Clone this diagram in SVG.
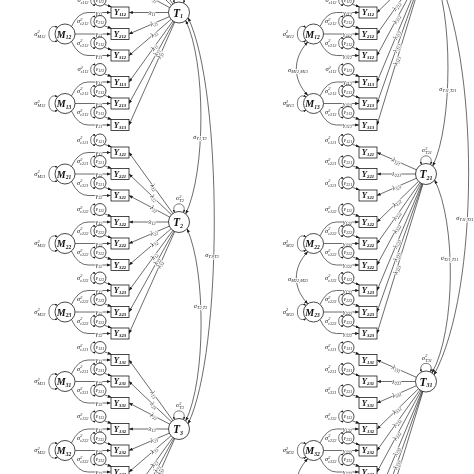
<svg xmlns="http://www.w3.org/2000/svg" width="474" height="474" viewBox="0 0 474 474">
<style>
.ln{fill:none;stroke:#1c1c1c;stroke-width:0.65}
.ar{marker-end:url(#a)}
.lp{fill:none;stroke:#1c1c1c;stroke-width:0.6;marker-start:url(#b);marker-end:url(#b)}
.cv{fill:none;stroke:#1c1c1c;stroke-width:0.65;marker-start:url(#a);marker-end:url(#a)}
.nd{fill:#fff;stroke:#1c1c1c;stroke-width:0.8}
.bt{font-family:"Liberation Serif","DejaVu Serif",serif;font-weight:bold;font-style:italic;text-anchor:middle;fill:#111}
.yt{font-size:8.5px}
.ys{font-size:4.8px}
.tt{font-size:11.5px}
.ts{font-size:6px}
.mt{font-size:10px}
.ms{font-size:5.5px}
.et{font-family:"Liberation Serif","DejaVu Serif",serif;font-style:italic;font-size:5.8px;text-anchor:middle;fill:#111}
.es{font-size:4px}
.lb{font-family:"Liberation Serif","DejaVu Serif",serif;font-style:italic;font-size:6.5px;fill:#1a1a1a;text-anchor:middle;paint-order:stroke;stroke:#fff;stroke-width:1.5px;stroke-linejoin:round}
.le{text-anchor:end;stroke:none}
.sb{font-size:4.3px}
</style>
<defs>
<marker id="a" viewBox="0 0 10 8" refX="9.5" refY="4" markerWidth="4" markerHeight="3.2" markerUnits="userSpaceOnUse" orient="auto-start-reverse"><path d="M0,0 L10,4 L0,8 z" fill="#1c1c1c"/></marker>
<marker id="b" viewBox="0 0 10 8" refX="9.5" refY="4" markerWidth="2.8" markerHeight="2.3" markerUnits="userSpaceOnUse" orient="auto-start-reverse"><path d="M0,0 L10,4 L0,8 z" fill="#1c1c1c"/></marker>
<path id="eL" class="lp" d="M-4.3,-4.2 C-11,-8.5 -11,8.5 -4.3,4.2"/>
<path id="eA" class="ln ar" d="M4.2,4.2 L11.5,7"/>
<path id="mL" class="lp" d="M-7.5,-6.6 C-19,-13 -19,13 -7.5,6.6"/>
<path id="tL" class="lp" d="M-4.5,-9.6 C-9,-21 9,-21 4.5,-9.6"/>
<g id="gm">
<path class="ln ar" d="M6.5,-7.6 Q13,-21.5 23,-21.5 L45.5,-21.5"/>
<path class="ln ar" d="M10,0 L45.5,0"/>
<path class="ln ar" d="M6.5,7.6 Q13,21.5 23,21.5 L45.5,21.5"/>
</g>
</defs>
<rect width="474" height="474" fill="#fff"/>
<g opacity="0.999">
<g id="connectors">
<path class="ln ar" d="M179,12.5 L129,-57"/>
<path class="ln ar" d="M179,12.5 L129,-35.5"/>
<path class="ln ar" d="M179,12.5 L129,-14"/>
<path class="ln ar" d="M179,12.5 L129,12.5"/>
<path class="ln ar" d="M179,12.5 L129,34"/>
<path class="ln ar" d="M179,12.5 L129,55.5"/>
<path class="ln ar" d="M179,12.5 L129,82"/>
<path class="ln ar" d="M179,12.5 L129,103.5"/>
<path class="ln ar" d="M179,12.5 L129,125"/>
<path class="ln ar" d="M179,222 L129,152.5"/>
<path class="ln ar" d="M179,222 L129,174"/>
<path class="ln ar" d="M179,222 L129,195.5"/>
<path class="ln ar" d="M179,222 L129,222"/>
<path class="ln ar" d="M179,222 L129,243.5"/>
<path class="ln ar" d="M179,222 L129,265"/>
<path class="ln ar" d="M179,222 L129,290.5"/>
<path class="ln ar" d="M179,222 L129,312"/>
<path class="ln ar" d="M179,222 L129,333.5"/>
<path class="ln ar" d="M179,429 L129,360"/>
<path class="ln ar" d="M179,429 L129,381.5"/>
<path class="ln ar" d="M179,429 L129,403"/>
<path class="ln ar" d="M179,429 L129,429"/>
<path class="ln ar" d="M179,429 L129,450.5"/>
<path class="ln ar" d="M179,429 L129,472"/>
<path class="ln ar" d="M179,429 L129,498.5"/>
<path class="ln ar" d="M179,429 L129,520"/>
<path class="ln ar" d="M179,429 L129,541.5"/>
<path class="ln ar" d="M426,-35.5 L377,12.5"/>
<path class="ln ar" d="M426,-35.5 L377,34"/>
<path class="ln ar" d="M426,-35.5 L377,55.5"/>
<path class="ln ar" d="M426,-35.5 L377,82"/>
<path class="ln ar" d="M426,-35.5 L377,103.5"/>
<path class="ln ar" d="M426,-35.5 L377,125"/>
<path class="ln ar" d="M426,174 L377,152.5"/>
<path class="ln ar" d="M426,174 L377,174"/>
<path class="ln ar" d="M426,174 L377,195.5"/>
<path class="ln ar" d="M426,174 L377,222"/>
<path class="ln ar" d="M426,174 L377,243.5"/>
<path class="ln ar" d="M426,174 L377,265"/>
<path class="ln ar" d="M426,174 L377,290.5"/>
<path class="ln ar" d="M426,174 L377,312"/>
<path class="ln ar" d="M426,174 L377,333.5"/>
<path class="ln ar" d="M426,381.5 L377,360"/>
<path class="ln ar" d="M426,381.5 L377,381.5"/>
<path class="ln ar" d="M426,381.5 L377,403"/>
<path class="ln ar" d="M426,381.5 L377,429"/>
<path class="ln ar" d="M426,381.5 L377,450.5"/>
<path class="ln ar" d="M426,381.5 L377,472"/>
<path class="ln ar" d="M426,381.5 L377,498.5"/>
<path class="ln ar" d="M426,381.5 L377,520"/>
<path class="ln ar" d="M426,381.5 L377,541.5"/>

<path class="cv" d="M185.7,20.6 C206,62 206,172 185.7,213.9"/>
<path class="cv" d="M188.1,17.75 C223,90 223,352 188.1,423.75"/>
<path class="cv" d="M187,228.7 C206,270 206,380 185.7,420.9"/>
<path class="cv" d="M433,-27.5 C453,10 453,125 432.7,166"/>
<path class="cv" d="M435,-30 C480,60 480,290 434,374.8"/>
<path class="cv" d="M434.6,180 C456,222 456,330 432,372.9"/>
<path class="cv" d="M307.8,42 C292.5,58 292.5,79.5 307.8,95.3"/>
<path class="cv" d="M307.8,251.7 C292.5,267.5 292.5,288 307.8,303.8"/>
<path class="cv" d="M307.8,458.7 C292.5,474.5 292.5,496 307.8,511.8"/>

<use href="#tL" x="179" y="12.5"/>
<use href="#tL" x="179" y="222"/>
<use href="#tL" x="179" y="429"/>
<use href="#tL" x="426" y="174"/>
<use href="#tL" x="426" y="381.5"/>

<use href="#gm" x="65" y="34"/><use href="#mL" x="65" y="34"/>
<use href="#gm" x="65" y="103.5"/><use href="#mL" x="65" y="103.5"/>
<use href="#gm" x="65" y="174"/><use href="#mL" x="65" y="174"/>
<use href="#gm" x="65" y="243.5"/><use href="#mL" x="65" y="243.5"/>
<use href="#gm" x="65" y="312"/><use href="#mL" x="65" y="312"/>
<use href="#gm" x="65" y="381.5"/><use href="#mL" x="65" y="381.5"/>
<use href="#gm" x="65" y="450.5"/><use href="#mL" x="65" y="450.5"/>
<use href="#gm" x="313.5" y="34"/><use href="#mL" x="313.5" y="34"/>
<use href="#gm" x="313.5" y="103.5"/><use href="#mL" x="313.5" y="103.5"/>
<use href="#gm" x="313.5" y="243.5"/><use href="#mL" x="313.5" y="243.5"/>
<use href="#gm" x="313.5" y="312"/><use href="#mL" x="313.5" y="312"/>
<use href="#gm" x="313.5" y="450.5"/><use href="#mL" x="313.5" y="450.5"/>

<use href="#eL" x="100" y="0"/><use href="#eA" x="100" y="0"/>
<use href="#eL" x="100" y="21.5"/><use href="#eA" x="100" y="21.5"/>
<use href="#eL" x="100" y="43"/><use href="#eA" x="100" y="43"/>
<use href="#eL" x="100" y="69.5"/><use href="#eA" x="100" y="69.5"/>
<use href="#eL" x="100" y="91"/><use href="#eA" x="100" y="91"/>
<use href="#eL" x="100" y="112.5"/><use href="#eA" x="100" y="112.5"/>
<use href="#eL" x="100" y="140"/><use href="#eA" x="100" y="140"/>
<use href="#eL" x="100" y="161.5"/><use href="#eA" x="100" y="161.5"/>
<use href="#eL" x="100" y="183"/><use href="#eA" x="100" y="183"/>
<use href="#eL" x="100" y="209.5"/><use href="#eA" x="100" y="209.5"/>
<use href="#eL" x="100" y="231"/><use href="#eA" x="100" y="231"/>
<use href="#eL" x="100" y="252.5"/><use href="#eA" x="100" y="252.5"/>
<use href="#eL" x="100" y="278"/><use href="#eA" x="100" y="278"/>
<use href="#eL" x="100" y="299.5"/><use href="#eA" x="100" y="299.5"/>
<use href="#eL" x="100" y="321"/><use href="#eA" x="100" y="321"/>
<use href="#eL" x="100" y="347.5"/><use href="#eA" x="100" y="347.5"/>
<use href="#eL" x="100" y="369"/><use href="#eA" x="100" y="369"/>
<use href="#eL" x="100" y="390.5"/><use href="#eA" x="100" y="390.5"/>
<use href="#eL" x="100" y="416.5"/><use href="#eA" x="100" y="416.5"/>
<use href="#eL" x="100" y="438"/><use href="#eA" x="100" y="438"/>
<use href="#eL" x="100" y="459.5"/><use href="#eA" x="100" y="459.5"/>
<use href="#eL" x="348" y="0"/><use href="#eA" x="348" y="0"/>
<use href="#eL" x="348" y="21.5"/><use href="#eA" x="348" y="21.5"/>
<use href="#eL" x="348" y="43"/><use href="#eA" x="348" y="43"/>
<use href="#eL" x="348" y="69.5"/><use href="#eA" x="348" y="69.5"/>
<use href="#eL" x="348" y="91"/><use href="#eA" x="348" y="91"/>
<use href="#eL" x="348" y="112.5"/><use href="#eA" x="348" y="112.5"/>
<use href="#eL" x="348" y="140"/><use href="#eA" x="348" y="140"/>
<use href="#eL" x="348" y="161.5"/><use href="#eA" x="348" y="161.5"/>
<use href="#eL" x="348" y="183"/><use href="#eA" x="348" y="183"/>
<use href="#eL" x="348" y="209.5"/><use href="#eA" x="348" y="209.5"/>
<use href="#eL" x="348" y="231"/><use href="#eA" x="348" y="231"/>
<use href="#eL" x="348" y="252.5"/><use href="#eA" x="348" y="252.5"/>
<use href="#eL" x="348" y="278"/><use href="#eA" x="348" y="278"/>
<use href="#eL" x="348" y="299.5"/><use href="#eA" x="348" y="299.5"/>
<use href="#eL" x="348" y="321"/><use href="#eA" x="348" y="321"/>
<use href="#eL" x="348" y="347.5"/><use href="#eA" x="348" y="347.5"/>
<use href="#eL" x="348" y="369"/><use href="#eA" x="348" y="369"/>
<use href="#eL" x="348" y="390.5"/><use href="#eA" x="348" y="390.5"/>
<use href="#eL" x="348" y="416.5"/><use href="#eA" x="348" y="416.5"/>
<use href="#eL" x="348" y="438"/><use href="#eA" x="348" y="438"/>
<use href="#eL" x="348" y="459.5"/><use href="#eA" x="348" y="459.5"/>

<text class="lb" x="99" y="14.5">γ<tspan class="sb" dy="1.2">11</tspan></text>
<text class="lb" x="99" y="36">γ<tspan class="sb" dy="1.2">21</tspan></text>
<text class="lb" x="99" y="57.5">γ<tspan class="sb" dy="1.2">31</tspan></text>
<text class="lb" x="99" y="84">γ<tspan class="sb" dy="1.2">11</tspan></text>
<text class="lb" x="99" y="105.5">γ<tspan class="sb" dy="1.2">21</tspan></text>
<text class="lb" x="99" y="127">γ<tspan class="sb" dy="1.2">31</tspan></text>
<text class="lb" x="99" y="154.5">γ<tspan class="sb" dy="1.2">12</tspan></text>
<text class="lb" x="99" y="176">γ<tspan class="sb" dy="1.2">22</tspan></text>
<text class="lb" x="99" y="197.5">γ<tspan class="sb" dy="1.2">32</tspan></text>
<text class="lb" x="99" y="224">γ<tspan class="sb" dy="1.2">12</tspan></text>
<text class="lb" x="99" y="245.5">γ<tspan class="sb" dy="1.2">22</tspan></text>
<text class="lb" x="99" y="267">γ<tspan class="sb" dy="1.2">32</tspan></text>
<text class="lb" x="99" y="292.5">γ<tspan class="sb" dy="1.2">12</tspan></text>
<text class="lb" x="99" y="314">γ<tspan class="sb" dy="1.2">22</tspan></text>
<text class="lb" x="99" y="335.5">γ<tspan class="sb" dy="1.2">32</tspan></text>
<text class="lb" x="99" y="362">γ<tspan class="sb" dy="1.2">13</tspan></text>
<text class="lb" x="99" y="383.5">γ<tspan class="sb" dy="1.2">23</tspan></text>
<text class="lb" x="99" y="405">γ<tspan class="sb" dy="1.2">33</tspan></text>
<text class="lb" x="99" y="431">γ<tspan class="sb" dy="1.2">13</tspan></text>
<text class="lb" x="99" y="452.5">γ<tspan class="sb" dy="1.2">23</tspan></text>
<text class="lb" x="99" y="474">γ<tspan class="sb" dy="1.2">33</tspan></text>
<text class="lb" x="347.5" y="14.5">γ<tspan class="sb" dy="1.2">112</tspan></text>
<text class="lb" x="347.5" y="36">γ<tspan class="sb" dy="1.2">212</tspan></text>
<text class="lb" x="347.5" y="57.5">γ<tspan class="sb" dy="1.2">312</tspan></text>
<text class="lb" x="347.5" y="84">γ<tspan class="sb" dy="1.2">113</tspan></text>
<text class="lb" x="347.5" y="105.5">γ<tspan class="sb" dy="1.2">213</tspan></text>
<text class="lb" x="347.5" y="127">γ<tspan class="sb" dy="1.2">313</tspan></text>
<text class="lb" x="347.5" y="224">γ<tspan class="sb" dy="1.2">122</tspan></text>
<text class="lb" x="347.5" y="245.5">γ<tspan class="sb" dy="1.2">222</tspan></text>
<text class="lb" x="347.5" y="267">γ<tspan class="sb" dy="1.2">322</tspan></text>
<text class="lb" x="347.5" y="292.5">γ<tspan class="sb" dy="1.2">123</tspan></text>
<text class="lb" x="347.5" y="314">γ<tspan class="sb" dy="1.2">223</tspan></text>
<text class="lb" x="347.5" y="335.5">γ<tspan class="sb" dy="1.2">323</tspan></text>
<text class="lb" x="347.5" y="431">γ<tspan class="sb" dy="1.2">132</tspan></text>
<text class="lb" x="347.5" y="452.5">γ<tspan class="sb" dy="1.2">232</tspan></text>
<text class="lb" x="347.5" y="474">γ<tspan class="sb" dy="1.2">332</tspan></text>

<text class="lb" transform="translate(154,-0.75) rotate(27.9)" y="2">λ<tspan class="sb" dy="1.2">31</tspan></text>
<text class="lb" transform="translate(152,12.5)" y="2">λ<tspan class="sb" dy="1.2">11</tspan></text>
<text class="lb" transform="translate(154,23.25) rotate(-23.3)" y="2">λ<tspan class="sb" dy="1.2">21</tspan></text>
<text class="lb" transform="translate(154,34) rotate(-40.7)" y="2">λ<tspan class="sb" dy="1.2">31</tspan></text>
<text class="lb" transform="translate(154,47.25) rotate(-54.3)" y="2">λ<tspan class="sb" dy="1.2">11</tspan></text>
<text class="lb" transform="translate(157,52.5) rotate(-61.2)" y="2">λ<tspan class="sb" dy="1.2">21</tspan></text>
<text class="lb" transform="translate(160,55.25) rotate(-66)" y="2">λ<tspan class="sb" dy="1.2">31</tspan></text>
<text class="lb" transform="translate(154,187.25) rotate(54.3)" y="2">λ<tspan class="sb" dy="1.2">12</tspan></text>
<text class="lb" transform="translate(154,198) rotate(43.8)" y="2">λ<tspan class="sb" dy="1.2">22</tspan></text>
<text class="lb" transform="translate(154,208.75) rotate(27.9)" y="2">λ<tspan class="sb" dy="1.2">32</tspan></text>
<text class="lb" transform="translate(152,222)" y="2">λ<tspan class="sb" dy="1.2">12</tspan></text>
<text class="lb" transform="translate(154,232.75) rotate(-23.3)" y="2">λ<tspan class="sb" dy="1.2">22</tspan></text>
<text class="lb" transform="translate(154,243.5) rotate(-40.7)" y="2">λ<tspan class="sb" dy="1.2">32</tspan></text>
<text class="lb" transform="translate(154,256.25) rotate(-53.9)" y="2">λ<tspan class="sb" dy="1.2">12</tspan></text>
<text class="lb" transform="translate(157,261.6) rotate(-60.9)" y="2">λ<tspan class="sb" dy="1.2">22</tspan></text>
<text class="lb" transform="translate(160,264.4) rotate(-65.8)" y="2">λ<tspan class="sb" dy="1.2">32</tspan></text>
<text class="lb" transform="translate(154,394.5) rotate(54.1)" y="2">λ<tspan class="sb" dy="1.2">13</tspan></text>
<text class="lb" transform="translate(154,405.25) rotate(43.5)" y="2">λ<tspan class="sb" dy="1.2">23</tspan></text>
<text class="lb" transform="translate(154,416) rotate(27.5)" y="2">λ<tspan class="sb" dy="1.2">33</tspan></text>
<text class="lb" transform="translate(152,429)" y="2">λ<tspan class="sb" dy="1.2">13</tspan></text>
<text class="lb" transform="translate(154,439.75) rotate(-23.3)" y="2">λ<tspan class="sb" dy="1.2">23</tspan></text>
<text class="lb" transform="translate(154,450.5) rotate(-40.7)" y="2">λ<tspan class="sb" dy="1.2">33</tspan></text>
<text class="lb" transform="translate(154,463.75) rotate(-54.3)" y="2">λ<tspan class="sb" dy="1.2">13</tspan></text>
<text class="lb" transform="translate(157,469) rotate(-61.2)" y="2">λ<tspan class="sb" dy="1.2">23</tspan></text>
<text class="lb" transform="translate(160,471.75) rotate(-66)" y="2">λ<tspan class="sb" dy="1.2">33</tspan></text>
<text class="lb" transform="translate(396.6,6.2) rotate(-54.8)" y="2">λ<tspan class="sb" dy="1.2">212</tspan></text>
<text class="lb" transform="translate(396.6,19.1) rotate(-61.7)" y="2">λ<tspan class="sb" dy="1.2">312</tspan></text>
<text class="lb" transform="translate(396.6,35) rotate(-67.4)" y="2">λ<tspan class="sb" dy="1.2">113</tspan></text>
<text class="lb" transform="translate(396.6,47.9) rotate(-70.6)" y="2">λ<tspan class="sb" dy="1.2">213</tspan></text>
<text class="lb" transform="translate(396.6,60.8) rotate(-73)" y="2">λ<tspan class="sb" dy="1.2">313</tspan></text>
<text class="lb" transform="translate(396.6,161.1) rotate(23.7)" y="2">λ<tspan class="sb" dy="1.2">121</tspan></text>
<text class="lb" transform="translate(396.6,174)" y="2">λ<tspan class="sb" dy="1.2">221</tspan></text>
<text class="lb" transform="translate(396.6,186.9) rotate(-23.7)" y="2">λ<tspan class="sb" dy="1.2">321</tspan></text>
<text class="lb" transform="translate(396.6,202.8) rotate(-44.4)" y="2">λ<tspan class="sb" dy="1.2">122</tspan></text>
<text class="lb" transform="translate(396.6,215.7) rotate(-54.8)" y="2">λ<tspan class="sb" dy="1.2">222</tspan></text>
<text class="lb" transform="translate(396.6,228.6) rotate(-61.7)" y="2">λ<tspan class="sb" dy="1.2">322</tspan></text>
<text class="lb" transform="translate(396.6,243.9) rotate(-67.2)" y="2">λ<tspan class="sb" dy="1.2">123</tspan></text>
<text class="lb" transform="translate(396.6,256.8) rotate(-70.5)" y="2">λ<tspan class="sb" dy="1.2">223</tspan></text>
<text class="lb" transform="translate(396.6,269.7) rotate(-72.9)" y="2">λ<tspan class="sb" dy="1.2">323</tspan></text>
<text class="lb" transform="translate(396.6,368.6) rotate(23.7)" y="2">λ<tspan class="sb" dy="1.2">131</tspan></text>
<text class="lb" transform="translate(396.6,381.5)" y="2">λ<tspan class="sb" dy="1.2">231</tspan></text>
<text class="lb" transform="translate(396.6,394.4) rotate(-23.7)" y="2">λ<tspan class="sb" dy="1.2">331</tspan></text>
<text class="lb" transform="translate(396.6,410) rotate(-44.1)" y="2">λ<tspan class="sb" dy="1.2">132</tspan></text>
<text class="lb" transform="translate(396.6,422.9) rotate(-54.6)" y="2">λ<tspan class="sb" dy="1.2">232</tspan></text>
<text class="lb" transform="translate(396.6,435.8) rotate(-61.6)" y="2">λ<tspan class="sb" dy="1.2">332</tspan></text>
<text class="lb" transform="translate(396.6,451.7) rotate(-67.3)" y="2">λ<tspan class="sb" dy="1.2">133</tspan></text>
<text class="lb" transform="translate(396.6,464.6) rotate(-70.5)" y="2">λ<tspan class="sb" dy="1.2">233</tspan></text>

<text class="lb" x="200" y="139">σ<tspan class="sb" dy="1.2">T1,T2</tspan></text>
<text class="lb" x="212" y="257">σ<tspan class="sb" dy="1.2">T1,T3</tspan></text>
<text class="lb" x="200.5" y="308">σ<tspan class="sb" dy="1.2">T2,T3</tspan></text>
<text class="lb" x="448" y="91">σ<tspan class="sb" dy="1.2">T11,T21</tspan></text>
<text class="lb" x="465" y="220">σ<tspan class="sb" dy="1.2">T11,T31</tspan></text>
<text class="lb" x="449.5" y="260">σ<tspan class="sb" dy="1.2">T21,T31</tspan></text>
<text class="lb" x="298" y="72">σ<tspan class="sb" dy="1.2">M12,M13</tspan></text>
<text class="lb" x="298" y="281">σ<tspan class="sb" dy="1.2">M22,M23</tspan></text>
</g>

<g id="T1" transform="translate(179,12.5)"><circle class="nd" r="10.5"/><text class="bt tt" x="-1" y="4">T<tspan class="ts" dy="1.5">1</tspan></text></g>
<g id="T2" transform="translate(179,222)"><circle class="nd" r="10.5"/><text class="bt tt" x="-1" y="4">T<tspan class="ts" dy="1.5">2</tspan></text><text class="lb" x="1" y="-22">σ<tspan class="sb" dy="-2.3">2</tspan><tspan class="sb" dx="-2.1" dy="4.4">T2</tspan></text></g>
<g id="T3" transform="translate(179,429)"><circle class="nd" r="10.5"/><text class="bt tt" x="-1" y="4">T<tspan class="ts" dy="1.5">3</tspan></text><text class="lb" x="1" y="-22">σ<tspan class="sb" dy="-2.3">2</tspan><tspan class="sb" dx="-2.1" dy="4.4">T3</tspan></text></g>
<g id="T21" transform="translate(426,174)"><circle class="nd" r="10.5"/><text class="bt tt" x="0" y="4">T<tspan class="ts" dy="1.5">21</tspan></text><text class="lb" x="1" y="-22">σ<tspan class="sb" dy="-2.3">2</tspan><tspan class="sb" dx="-2.1" dy="4.4">T21</tspan></text></g>
<g id="T31" transform="translate(426,381.5)"><circle class="nd" r="10.5"/><text class="bt tt" x="0" y="4">T<tspan class="ts" dy="1.5">31</tspan></text><text class="lb" x="1" y="-22">σ<tspan class="sb" dy="-2.3">2</tspan><tspan class="sb" dx="-2.1" dy="4.4">T31</tspan></text></g>

<g id="LM12" transform="translate(65,34)"><circle class="nd" r="10"/><text class="bt mt" x="-1" y="3.5">M<tspan class="ms" dy="1.5">12</tspan></text><text class="lb le" x="-19.5" y="1.5">σ<tspan class="sb" dy="-2.3">2</tspan><tspan class="sb" dx="-2.1" dy="4.4">M12</tspan></text></g>
<g id="LM13" transform="translate(65,103.5)"><circle class="nd" r="10"/><text class="bt mt" x="-1" y="3.5">M<tspan class="ms" dy="1.5">13</tspan></text><text class="lb le" x="-19.5" y="1.5">σ<tspan class="sb" dy="-2.3">2</tspan><tspan class="sb" dx="-2.1" dy="4.4">M13</tspan></text></g>
<g id="LM21" transform="translate(65,174)"><circle class="nd" r="10"/><text class="bt mt" x="-1" y="3.5">M<tspan class="ms" dy="1.5">21</tspan></text><text class="lb le" x="-19.5" y="1.5">σ<tspan class="sb" dy="-2.3">2</tspan><tspan class="sb" dx="-2.1" dy="4.4">M21</tspan></text></g>
<g id="LM22" transform="translate(65,243.5)"><circle class="nd" r="10"/><text class="bt mt" x="-1" y="3.5">M<tspan class="ms" dy="1.5">22</tspan></text><text class="lb le" x="-19.5" y="1.5">σ<tspan class="sb" dy="-2.3">2</tspan><tspan class="sb" dx="-2.1" dy="4.4">M22</tspan></text></g>
<g id="LM23" transform="translate(65,312)"><circle class="nd" r="10"/><text class="bt mt" x="-1" y="3.5">M<tspan class="ms" dy="1.5">23</tspan></text><text class="lb le" x="-19.5" y="1.5">σ<tspan class="sb" dy="-2.3">2</tspan><tspan class="sb" dx="-2.1" dy="4.4">M23</tspan></text></g>
<g id="LM31" transform="translate(65,381.5)"><circle class="nd" r="10"/><text class="bt mt" x="-1" y="3.5">M<tspan class="ms" dy="1.5">31</tspan></text><text class="lb le" x="-19.5" y="1.5">σ<tspan class="sb" dy="-2.3">2</tspan><tspan class="sb" dx="-2.1" dy="4.4">M31</tspan></text></g>
<g id="LM32" transform="translate(65,450.5)"><circle class="nd" r="10"/><text class="bt mt" x="-1" y="3.5">M<tspan class="ms" dy="1.5">32</tspan></text><text class="lb le" x="-19.5" y="1.5">σ<tspan class="sb" dy="-2.3">2</tspan><tspan class="sb" dx="-2.1" dy="4.4">M32</tspan></text></g>
<g id="RM12" transform="translate(313.5,34)"><circle class="nd" r="10"/><text class="bt mt" x="-1" y="3.5">M<tspan class="ms" dy="1.5">12</tspan></text><text class="lb le" x="-19.5" y="1.5">σ<tspan class="sb" dy="-2.3">2</tspan><tspan class="sb" dx="-2.1" dy="4.4">M12</tspan></text></g>
<g id="RM13" transform="translate(313.5,103.5)"><circle class="nd" r="10"/><text class="bt mt" x="-1" y="3.5">M<tspan class="ms" dy="1.5">13</tspan></text><text class="lb le" x="-19.5" y="1.5">σ<tspan class="sb" dy="-2.3">2</tspan><tspan class="sb" dx="-2.1" dy="4.4">M13</tspan></text></g>
<g id="RM22" transform="translate(313.5,243.5)"><circle class="nd" r="10"/><text class="bt mt" x="-1" y="3.5">M<tspan class="ms" dy="1.5">22</tspan></text><text class="lb le" x="-19.5" y="1.5">σ<tspan class="sb" dy="-2.3">2</tspan><tspan class="sb" dx="-2.1" dy="4.4">M22</tspan></text></g>
<g id="RM23" transform="translate(313.5,312)"><circle class="nd" r="10"/><text class="bt mt" x="-1" y="3.5">M<tspan class="ms" dy="1.5">23</tspan></text><text class="lb le" x="-19.5" y="1.5">σ<tspan class="sb" dy="-2.3">2</tspan><tspan class="sb" dx="-2.1" dy="4.4">M23</tspan></text></g>
<g id="RM32" transform="translate(313.5,450.5)"><circle class="nd" r="10"/><text class="bt mt" x="-1" y="3.5">M<tspan class="ms" dy="1.5">32</tspan></text><text class="lb le" x="-19.5" y="1.5">σ<tspan class="sb" dy="-2.3">2</tspan><tspan class="sb" dx="-2.1" dy="4.4">M32</tspan></text></g>

<g id="LY112" transform="translate(120,12.5)"><rect class="nd" x="-9" y="-5.5" width="18" height="11"/><text class="bt yt" y="2.6">Y<tspan class="ys" dy="1.3">112</tspan></text></g>
<g id="LY212" transform="translate(120,34)"><rect class="nd" x="-9" y="-5.5" width="18" height="11"/><text class="bt yt" y="2.6">Y<tspan class="ys" dy="1.3">212</tspan></text></g>
<g id="LY312" transform="translate(120,55.5)"><rect class="nd" x="-9" y="-5.5" width="18" height="11"/><text class="bt yt" y="2.6">Y<tspan class="ys" dy="1.3">312</tspan></text></g>
<g id="LY113" transform="translate(120,82)"><rect class="nd" x="-9" y="-5.5" width="18" height="11"/><text class="bt yt" y="2.6">Y<tspan class="ys" dy="1.3">113</tspan></text></g>
<g id="LY213" transform="translate(120,103.5)"><rect class="nd" x="-9" y="-5.5" width="18" height="11"/><text class="bt yt" y="2.6">Y<tspan class="ys" dy="1.3">213</tspan></text></g>
<g id="LY313" transform="translate(120,125)"><rect class="nd" x="-9" y="-5.5" width="18" height="11"/><text class="bt yt" y="2.6">Y<tspan class="ys" dy="1.3">313</tspan></text></g>
<g id="LY121" transform="translate(120,152.5)"><rect class="nd" x="-9" y="-5.5" width="18" height="11"/><text class="bt yt" y="2.6">Y<tspan class="ys" dy="1.3">121</tspan></text></g>
<g id="LY221" transform="translate(120,174)"><rect class="nd" x="-9" y="-5.5" width="18" height="11"/><text class="bt yt" y="2.6">Y<tspan class="ys" dy="1.3">221</tspan></text></g>
<g id="LY321" transform="translate(120,195.5)"><rect class="nd" x="-9" y="-5.5" width="18" height="11"/><text class="bt yt" y="2.6">Y<tspan class="ys" dy="1.3">321</tspan></text></g>
<g id="LY122" transform="translate(120,222)"><rect class="nd" x="-9" y="-5.5" width="18" height="11"/><text class="bt yt" y="2.6">Y<tspan class="ys" dy="1.3">122</tspan></text></g>
<g id="LY222" transform="translate(120,243.5)"><rect class="nd" x="-9" y="-5.5" width="18" height="11"/><text class="bt yt" y="2.6">Y<tspan class="ys" dy="1.3">222</tspan></text></g>
<g id="LY322" transform="translate(120,265)"><rect class="nd" x="-9" y="-5.5" width="18" height="11"/><text class="bt yt" y="2.6">Y<tspan class="ys" dy="1.3">322</tspan></text></g>
<g id="LY123" transform="translate(120,290.5)"><rect class="nd" x="-9" y="-5.5" width="18" height="11"/><text class="bt yt" y="2.6">Y<tspan class="ys" dy="1.3">123</tspan></text></g>
<g id="LY223" transform="translate(120,312)"><rect class="nd" x="-9" y="-5.5" width="18" height="11"/><text class="bt yt" y="2.6">Y<tspan class="ys" dy="1.3">223</tspan></text></g>
<g id="LY323" transform="translate(120,333.5)"><rect class="nd" x="-9" y="-5.5" width="18" height="11"/><text class="bt yt" y="2.6">Y<tspan class="ys" dy="1.3">323</tspan></text></g>
<g id="LY131" transform="translate(120,360)"><rect class="nd" x="-9" y="-5.5" width="18" height="11"/><text class="bt yt" y="2.6">Y<tspan class="ys" dy="1.3">131</tspan></text></g>
<g id="LY231" transform="translate(120,381.5)"><rect class="nd" x="-9" y="-5.5" width="18" height="11"/><text class="bt yt" y="2.6">Y<tspan class="ys" dy="1.3">231</tspan></text></g>
<g id="LY331" transform="translate(120,403)"><rect class="nd" x="-9" y="-5.5" width="18" height="11"/><text class="bt yt" y="2.6">Y<tspan class="ys" dy="1.3">331</tspan></text></g>
<g id="LY132" transform="translate(120,429)"><rect class="nd" x="-9" y="-5.5" width="18" height="11"/><text class="bt yt" y="2.6">Y<tspan class="ys" dy="1.3">132</tspan></text></g>
<g id="LY232" transform="translate(120,450.5)"><rect class="nd" x="-9" y="-5.5" width="18" height="11"/><text class="bt yt" y="2.6">Y<tspan class="ys" dy="1.3">232</tspan></text></g>
<g id="LY332" transform="translate(120,472)"><rect class="nd" x="-9" y="-5.5" width="18" height="11"/><text class="bt yt" y="2.6">Y<tspan class="ys" dy="1.3">332</tspan></text></g>
<g id="RY112" transform="translate(368,12.5)"><rect class="nd" x="-9" y="-5.5" width="18" height="11"/><text class="bt yt" y="2.6">Y<tspan class="ys" dy="1.3">112</tspan></text></g>
<g id="RY212" transform="translate(368,34)"><rect class="nd" x="-9" y="-5.5" width="18" height="11"/><text class="bt yt" y="2.6">Y<tspan class="ys" dy="1.3">212</tspan></text></g>
<g id="RY312" transform="translate(368,55.5)"><rect class="nd" x="-9" y="-5.5" width="18" height="11"/><text class="bt yt" y="2.6">Y<tspan class="ys" dy="1.3">312</tspan></text></g>
<g id="RY113" transform="translate(368,82)"><rect class="nd" x="-9" y="-5.5" width="18" height="11"/><text class="bt yt" y="2.6">Y<tspan class="ys" dy="1.3">113</tspan></text></g>
<g id="RY213" transform="translate(368,103.5)"><rect class="nd" x="-9" y="-5.5" width="18" height="11"/><text class="bt yt" y="2.6">Y<tspan class="ys" dy="1.3">213</tspan></text></g>
<g id="RY313" transform="translate(368,125)"><rect class="nd" x="-9" y="-5.5" width="18" height="11"/><text class="bt yt" y="2.6">Y<tspan class="ys" dy="1.3">313</tspan></text></g>
<g id="RY121" transform="translate(368,152.5)"><rect class="nd" x="-9" y="-5.5" width="18" height="11"/><text class="bt yt" y="2.6">Y<tspan class="ys" dy="1.3">121</tspan></text></g>
<g id="RY221" transform="translate(368,174)"><rect class="nd" x="-9" y="-5.5" width="18" height="11"/><text class="bt yt" y="2.6">Y<tspan class="ys" dy="1.3">221</tspan></text></g>
<g id="RY321" transform="translate(368,195.5)"><rect class="nd" x="-9" y="-5.5" width="18" height="11"/><text class="bt yt" y="2.6">Y<tspan class="ys" dy="1.3">321</tspan></text></g>
<g id="RY122" transform="translate(368,222)"><rect class="nd" x="-9" y="-5.5" width="18" height="11"/><text class="bt yt" y="2.6">Y<tspan class="ys" dy="1.3">122</tspan></text></g>
<g id="RY222" transform="translate(368,243.5)"><rect class="nd" x="-9" y="-5.5" width="18" height="11"/><text class="bt yt" y="2.6">Y<tspan class="ys" dy="1.3">222</tspan></text></g>
<g id="RY322" transform="translate(368,265)"><rect class="nd" x="-9" y="-5.5" width="18" height="11"/><text class="bt yt" y="2.6">Y<tspan class="ys" dy="1.3">322</tspan></text></g>
<g id="RY123" transform="translate(368,290.5)"><rect class="nd" x="-9" y="-5.5" width="18" height="11"/><text class="bt yt" y="2.6">Y<tspan class="ys" dy="1.3">123</tspan></text></g>
<g id="RY223" transform="translate(368,312)"><rect class="nd" x="-9" y="-5.5" width="18" height="11"/><text class="bt yt" y="2.6">Y<tspan class="ys" dy="1.3">223</tspan></text></g>
<g id="RY323" transform="translate(368,333.5)"><rect class="nd" x="-9" y="-5.5" width="18" height="11"/><text class="bt yt" y="2.6">Y<tspan class="ys" dy="1.3">323</tspan></text></g>
<g id="RY131" transform="translate(368,360)"><rect class="nd" x="-9" y="-5.5" width="18" height="11"/><text class="bt yt" y="2.6">Y<tspan class="ys" dy="1.3">131</tspan></text></g>
<g id="RY231" transform="translate(368,381.5)"><rect class="nd" x="-9" y="-5.5" width="18" height="11"/><text class="bt yt" y="2.6">Y<tspan class="ys" dy="1.3">231</tspan></text></g>
<g id="RY331" transform="translate(368,403)"><rect class="nd" x="-9" y="-5.5" width="18" height="11"/><text class="bt yt" y="2.6">Y<tspan class="ys" dy="1.3">331</tspan></text></g>
<g id="RY132" transform="translate(368,429)"><rect class="nd" x="-9" y="-5.5" width="18" height="11"/><text class="bt yt" y="2.6">Y<tspan class="ys" dy="1.3">132</tspan></text></g>
<g id="RY232" transform="translate(368,450.5)"><rect class="nd" x="-9" y="-5.5" width="18" height="11"/><text class="bt yt" y="2.6">Y<tspan class="ys" dy="1.3">232</tspan></text></g>
<g id="RY332" transform="translate(368,472)"><rect class="nd" x="-9" y="-5.5" width="18" height="11"/><text class="bt yt" y="2.6">Y<tspan class="ys" dy="1.3">332</tspan></text></g>

<g id="Le112" transform="translate(100,0)"><circle class="nd" r="6"/><text class="et" y="1.8">ε<tspan class="es" dy="0.7">112</tspan></text><text class="lb le" x="-11.5" y="1.5">σ<tspan class="sb" dy="-2.3">2</tspan><tspan class="sb" dx="-2.1" dy="4.4">ε112</tspan></text></g>
<g id="Le212" transform="translate(100,21.5)"><circle class="nd" r="6"/><text class="et" y="1.8">ε<tspan class="es" dy="0.7">212</tspan></text><text class="lb le" x="-11.5" y="1.5">σ<tspan class="sb" dy="-2.3">2</tspan><tspan class="sb" dx="-2.1" dy="4.4">ε212</tspan></text></g>
<g id="Le312" transform="translate(100,43)"><circle class="nd" r="6"/><text class="et" y="1.8">ε<tspan class="es" dy="0.7">312</tspan></text><text class="lb le" x="-11.5" y="1.5">σ<tspan class="sb" dy="-2.3">2</tspan><tspan class="sb" dx="-2.1" dy="4.4">ε312</tspan></text></g>
<g id="Le113" transform="translate(100,69.5)"><circle class="nd" r="6"/><text class="et" y="1.8">ε<tspan class="es" dy="0.7">113</tspan></text><text class="lb le" x="-11.5" y="1.5">σ<tspan class="sb" dy="-2.3">2</tspan><tspan class="sb" dx="-2.1" dy="4.4">ε113</tspan></text></g>
<g id="Le213" transform="translate(100,91)"><circle class="nd" r="6"/><text class="et" y="1.8">ε<tspan class="es" dy="0.7">213</tspan></text><text class="lb le" x="-11.5" y="1.5">σ<tspan class="sb" dy="-2.3">2</tspan><tspan class="sb" dx="-2.1" dy="4.4">ε213</tspan></text></g>
<g id="Le313" transform="translate(100,112.5)"><circle class="nd" r="6"/><text class="et" y="1.8">ε<tspan class="es" dy="0.7">313</tspan></text><text class="lb le" x="-11.5" y="1.5">σ<tspan class="sb" dy="-2.3">2</tspan><tspan class="sb" dx="-2.1" dy="4.4">ε313</tspan></text></g>
<g id="Le121" transform="translate(100,140)"><circle class="nd" r="6"/><text class="et" y="1.8">ε<tspan class="es" dy="0.7">121</tspan></text><text class="lb le" x="-11.5" y="1.5">σ<tspan class="sb" dy="-2.3">2</tspan><tspan class="sb" dx="-2.1" dy="4.4">ε121</tspan></text></g>
<g id="Le221" transform="translate(100,161.5)"><circle class="nd" r="6"/><text class="et" y="1.8">ε<tspan class="es" dy="0.7">221</tspan></text><text class="lb le" x="-11.5" y="1.5">σ<tspan class="sb" dy="-2.3">2</tspan><tspan class="sb" dx="-2.1" dy="4.4">ε221</tspan></text></g>
<g id="Le321" transform="translate(100,183)"><circle class="nd" r="6"/><text class="et" y="1.8">ε<tspan class="es" dy="0.7">321</tspan></text><text class="lb le" x="-11.5" y="1.5">σ<tspan class="sb" dy="-2.3">2</tspan><tspan class="sb" dx="-2.1" dy="4.4">ε321</tspan></text></g>
<g id="Le122" transform="translate(100,209.5)"><circle class="nd" r="6"/><text class="et" y="1.8">ε<tspan class="es" dy="0.7">122</tspan></text><text class="lb le" x="-11.5" y="1.5">σ<tspan class="sb" dy="-2.3">2</tspan><tspan class="sb" dx="-2.1" dy="4.4">ε122</tspan></text></g>
<g id="Le222" transform="translate(100,231)"><circle class="nd" r="6"/><text class="et" y="1.8">ε<tspan class="es" dy="0.7">222</tspan></text><text class="lb le" x="-11.5" y="1.5">σ<tspan class="sb" dy="-2.3">2</tspan><tspan class="sb" dx="-2.1" dy="4.4">ε222</tspan></text></g>
<g id="Le322" transform="translate(100,252.5)"><circle class="nd" r="6"/><text class="et" y="1.8">ε<tspan class="es" dy="0.7">322</tspan></text><text class="lb le" x="-11.5" y="1.5">σ<tspan class="sb" dy="-2.3">2</tspan><tspan class="sb" dx="-2.1" dy="4.4">ε322</tspan></text></g>
<g id="Le123" transform="translate(100,278)"><circle class="nd" r="6"/><text class="et" y="1.8">ε<tspan class="es" dy="0.7">123</tspan></text><text class="lb le" x="-11.5" y="1.5">σ<tspan class="sb" dy="-2.3">2</tspan><tspan class="sb" dx="-2.1" dy="4.4">ε123</tspan></text></g>
<g id="Le223" transform="translate(100,299.5)"><circle class="nd" r="6"/><text class="et" y="1.8">ε<tspan class="es" dy="0.7">223</tspan></text><text class="lb le" x="-11.5" y="1.5">σ<tspan class="sb" dy="-2.3">2</tspan><tspan class="sb" dx="-2.1" dy="4.4">ε223</tspan></text></g>
<g id="Le323" transform="translate(100,321)"><circle class="nd" r="6"/><text class="et" y="1.8">ε<tspan class="es" dy="0.7">323</tspan></text><text class="lb le" x="-11.5" y="1.5">σ<tspan class="sb" dy="-2.3">2</tspan><tspan class="sb" dx="-2.1" dy="4.4">ε323</tspan></text></g>
<g id="Le131" transform="translate(100,347.5)"><circle class="nd" r="6"/><text class="et" y="1.8">ε<tspan class="es" dy="0.7">131</tspan></text><text class="lb le" x="-11.5" y="1.5">σ<tspan class="sb" dy="-2.3">2</tspan><tspan class="sb" dx="-2.1" dy="4.4">ε131</tspan></text></g>
<g id="Le231" transform="translate(100,369)"><circle class="nd" r="6"/><text class="et" y="1.8">ε<tspan class="es" dy="0.7">231</tspan></text><text class="lb le" x="-11.5" y="1.5">σ<tspan class="sb" dy="-2.3">2</tspan><tspan class="sb" dx="-2.1" dy="4.4">ε231</tspan></text></g>
<g id="Le331" transform="translate(100,390.5)"><circle class="nd" r="6"/><text class="et" y="1.8">ε<tspan class="es" dy="0.7">331</tspan></text><text class="lb le" x="-11.5" y="1.5">σ<tspan class="sb" dy="-2.3">2</tspan><tspan class="sb" dx="-2.1" dy="4.4">ε331</tspan></text></g>
<g id="Le132" transform="translate(100,416.5)"><circle class="nd" r="6"/><text class="et" y="1.8">ε<tspan class="es" dy="0.7">132</tspan></text><text class="lb le" x="-11.5" y="1.5">σ<tspan class="sb" dy="-2.3">2</tspan><tspan class="sb" dx="-2.1" dy="4.4">ε132</tspan></text></g>
<g id="Le232" transform="translate(100,438)"><circle class="nd" r="6"/><text class="et" y="1.8">ε<tspan class="es" dy="0.7">232</tspan></text><text class="lb le" x="-11.5" y="1.5">σ<tspan class="sb" dy="-2.3">2</tspan><tspan class="sb" dx="-2.1" dy="4.4">ε232</tspan></text></g>
<g id="Le332" transform="translate(100,459.5)"><circle class="nd" r="6"/><text class="et" y="1.8">ε<tspan class="es" dy="0.7">332</tspan></text><text class="lb le" x="-11.5" y="1.5">σ<tspan class="sb" dy="-2.3">2</tspan><tspan class="sb" dx="-2.1" dy="4.4">ε332</tspan></text></g>
<g id="Re112" transform="translate(348,0)"><circle class="nd" r="6"/><text class="et" y="1.8">ε<tspan class="es" dy="0.7">112</tspan></text><text class="lb le" x="-11.5" y="1.5">σ<tspan class="sb" dy="-2.3">2</tspan><tspan class="sb" dx="-2.1" dy="4.4">ε112</tspan></text></g>
<g id="Re212" transform="translate(348,21.5)"><circle class="nd" r="6"/><text class="et" y="1.8">ε<tspan class="es" dy="0.7">212</tspan></text><text class="lb le" x="-11.5" y="1.5">σ<tspan class="sb" dy="-2.3">2</tspan><tspan class="sb" dx="-2.1" dy="4.4">ε212</tspan></text></g>
<g id="Re312" transform="translate(348,43)"><circle class="nd" r="6"/><text class="et" y="1.8">ε<tspan class="es" dy="0.7">312</tspan></text><text class="lb le" x="-11.5" y="1.5">σ<tspan class="sb" dy="-2.3">2</tspan><tspan class="sb" dx="-2.1" dy="4.4">ε312</tspan></text></g>
<g id="Re113" transform="translate(348,69.5)"><circle class="nd" r="6"/><text class="et" y="1.8">ε<tspan class="es" dy="0.7">113</tspan></text><text class="lb le" x="-11.5" y="1.5">σ<tspan class="sb" dy="-2.3">2</tspan><tspan class="sb" dx="-2.1" dy="4.4">ε113</tspan></text></g>
<g id="Re213" transform="translate(348,91)"><circle class="nd" r="6"/><text class="et" y="1.8">ε<tspan class="es" dy="0.7">213</tspan></text><text class="lb le" x="-11.5" y="1.5">σ<tspan class="sb" dy="-2.3">2</tspan><tspan class="sb" dx="-2.1" dy="4.4">ε213</tspan></text></g>
<g id="Re313" transform="translate(348,112.5)"><circle class="nd" r="6"/><text class="et" y="1.8">ε<tspan class="es" dy="0.7">313</tspan></text><text class="lb le" x="-11.5" y="1.5">σ<tspan class="sb" dy="-2.3">2</tspan><tspan class="sb" dx="-2.1" dy="4.4">ε313</tspan></text></g>
<g id="Re121" transform="translate(348,140)"><circle class="nd" r="6"/><text class="et" y="1.8">ε<tspan class="es" dy="0.7">121</tspan></text><text class="lb le" x="-11.5" y="1.5">σ<tspan class="sb" dy="-2.3">2</tspan><tspan class="sb" dx="-2.1" dy="4.4">ε121</tspan></text></g>
<g id="Re221" transform="translate(348,161.5)"><circle class="nd" r="6"/><text class="et" y="1.8">ε<tspan class="es" dy="0.7">221</tspan></text><text class="lb le" x="-11.5" y="1.5">σ<tspan class="sb" dy="-2.3">2</tspan><tspan class="sb" dx="-2.1" dy="4.4">ε221</tspan></text></g>
<g id="Re321" transform="translate(348,183)"><circle class="nd" r="6"/><text class="et" y="1.8">ε<tspan class="es" dy="0.7">321</tspan></text><text class="lb le" x="-11.5" y="1.5">σ<tspan class="sb" dy="-2.3">2</tspan><tspan class="sb" dx="-2.1" dy="4.4">ε321</tspan></text></g>
<g id="Re122" transform="translate(348,209.5)"><circle class="nd" r="6"/><text class="et" y="1.8">ε<tspan class="es" dy="0.7">122</tspan></text><text class="lb le" x="-11.5" y="1.5">σ<tspan class="sb" dy="-2.3">2</tspan><tspan class="sb" dx="-2.1" dy="4.4">ε122</tspan></text></g>
<g id="Re222" transform="translate(348,231)"><circle class="nd" r="6"/><text class="et" y="1.8">ε<tspan class="es" dy="0.7">222</tspan></text><text class="lb le" x="-11.5" y="1.5">σ<tspan class="sb" dy="-2.3">2</tspan><tspan class="sb" dx="-2.1" dy="4.4">ε222</tspan></text></g>
<g id="Re322" transform="translate(348,252.5)"><circle class="nd" r="6"/><text class="et" y="1.8">ε<tspan class="es" dy="0.7">322</tspan></text><text class="lb le" x="-11.5" y="1.5">σ<tspan class="sb" dy="-2.3">2</tspan><tspan class="sb" dx="-2.1" dy="4.4">ε322</tspan></text></g>
<g id="Re123" transform="translate(348,278)"><circle class="nd" r="6"/><text class="et" y="1.8">ε<tspan class="es" dy="0.7">123</tspan></text><text class="lb le" x="-11.5" y="1.5">σ<tspan class="sb" dy="-2.3">2</tspan><tspan class="sb" dx="-2.1" dy="4.4">ε123</tspan></text></g>
<g id="Re223" transform="translate(348,299.5)"><circle class="nd" r="6"/><text class="et" y="1.8">ε<tspan class="es" dy="0.7">223</tspan></text><text class="lb le" x="-11.5" y="1.5">σ<tspan class="sb" dy="-2.3">2</tspan><tspan class="sb" dx="-2.1" dy="4.4">ε223</tspan></text></g>
<g id="Re323" transform="translate(348,321)"><circle class="nd" r="6"/><text class="et" y="1.8">ε<tspan class="es" dy="0.7">323</tspan></text><text class="lb le" x="-11.5" y="1.5">σ<tspan class="sb" dy="-2.3">2</tspan><tspan class="sb" dx="-2.1" dy="4.4">ε323</tspan></text></g>
<g id="Re131" transform="translate(348,347.5)"><circle class="nd" r="6"/><text class="et" y="1.8">ε<tspan class="es" dy="0.7">131</tspan></text><text class="lb le" x="-11.5" y="1.5">σ<tspan class="sb" dy="-2.3">2</tspan><tspan class="sb" dx="-2.1" dy="4.4">ε131</tspan></text></g>
<g id="Re231" transform="translate(348,369)"><circle class="nd" r="6"/><text class="et" y="1.8">ε<tspan class="es" dy="0.7">231</tspan></text><text class="lb le" x="-11.5" y="1.5">σ<tspan class="sb" dy="-2.3">2</tspan><tspan class="sb" dx="-2.1" dy="4.4">ε231</tspan></text></g>
<g id="Re331" transform="translate(348,390.5)"><circle class="nd" r="6"/><text class="et" y="1.8">ε<tspan class="es" dy="0.7">331</tspan></text><text class="lb le" x="-11.5" y="1.5">σ<tspan class="sb" dy="-2.3">2</tspan><tspan class="sb" dx="-2.1" dy="4.4">ε331</tspan></text></g>
<g id="Re132" transform="translate(348,416.5)"><circle class="nd" r="6"/><text class="et" y="1.8">ε<tspan class="es" dy="0.7">132</tspan></text><text class="lb le" x="-11.5" y="1.5">σ<tspan class="sb" dy="-2.3">2</tspan><tspan class="sb" dx="-2.1" dy="4.4">ε132</tspan></text></g>
<g id="Re232" transform="translate(348,438)"><circle class="nd" r="6"/><text class="et" y="1.8">ε<tspan class="es" dy="0.7">232</tspan></text><text class="lb le" x="-11.5" y="1.5">σ<tspan class="sb" dy="-2.3">2</tspan><tspan class="sb" dx="-2.1" dy="4.4">ε232</tspan></text></g>
<g id="Re332" transform="translate(348,459.5)"><circle class="nd" r="6"/><text class="et" y="1.8">ε<tspan class="es" dy="0.7">332</tspan></text><text class="lb le" x="-11.5" y="1.5">σ<tspan class="sb" dy="-2.3">2</tspan><tspan class="sb" dx="-2.1" dy="4.4">ε332</tspan></text></g>
</g>
</svg>
